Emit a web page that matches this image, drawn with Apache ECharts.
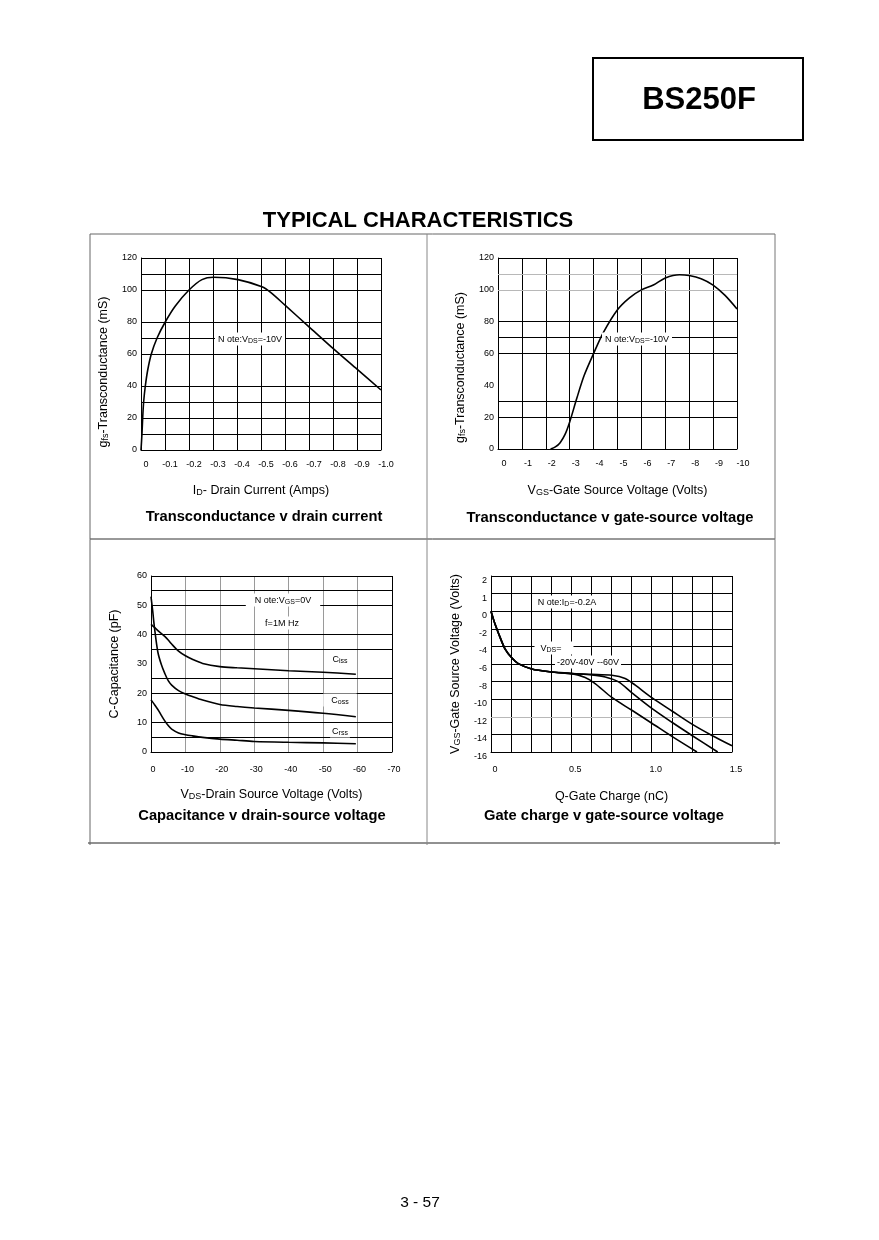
<!DOCTYPE html>
<html>
<head>
<meta charset="utf-8">
<title>BS250F typical characteristics</title>
<script src="https://cdn.jsdelivr.net/npm/echarts@6/dist/echarts.min.js"></script>
<style>
  html, body { margin: 0; padding: 0; background: #fff; }
  #chart { width: 879px; height: 1240px; }
</style>
</head>
<body>
<div id="chart"></div>
<script>
// --- transconductance v drain current (VDS = -10V)
const idAmps = [0, -0.004, -0.007, -0.011, -0.018, -0.028, -0.043, -0.067, -0.101, -0.143, -0.2, -0.254, -0.303, -0.404, -0.504, -0.54, -0.6, -0.7, -0.8, -0.9, -1.0]
const gfsVsId = [0, 10, 20, 30, 40, 50, 60, 70, 80, 90, 100, 106.5, 108, 106.5, 102, 98.5, 90.5, 77, 63.5, 50.5, 37.5]
const idTickLabels = ['0', '-0.1', '-0.2', '-0.3', '-0.4', '-0.5', '-0.6', '-0.7', '-0.8', '-0.9', '-1.0']
const gfsGridBlack1 = [10, 20, 30, 40, 60, 70, 80, 100, 110, 120]

// --- transconductance v gate-source voltage
const vgsVolts = [-2.2, -2.4, -2.6, -2.8, -3, -3.3, -3.6, -4, -4.4, -5, -5.5, -6, -6.5, -7, -7.6, -8, -8.5, -9, -9.5, -10]
const gfsVsVgs = [0, 1.3, 4, 9, 17, 32, 46, 60, 73, 87.5, 95, 100, 103, 107.5, 109.5, 109, 107, 103, 96.5, 88]
const vgsTickLabels = ['0', '-1', '-2', '-3', '-4', '-5', '-6', '-7', '-8', '-9', '-10']
const gfsGridBlack2 = [20, 30, 60, 70, 80, 120]
const gfsGridGrey2 = [100, 110]

// --- capacitance v drain-source voltage (VGS = 0V, f = 1MHz)
const vdsVolts = [0, -0.5, -1, -2, -3, -4, -5, -6, -8, -10, -12, -15, -20, -25, -30, -40, -50, -59.5]
const ciss = [43.5, 43, 42.5, 41.4, 40.4, 39.4, 38.2, 36.8, 34.4, 32.8, 31.6, 30.2, 29.1, 28.7, 28.4, 27.7, 27.2, 26.5]
const coss = [53, 48, 42.5, 34, 29.8, 26.8, 24.3, 22.8, 20.9, 19.8, 18.9, 17.7, 16.2, 15.5, 15, 14.2, 13.2, 12]
const crss = [17.8, 17, 16.2, 14.5, 12.5, 10.6, 9, 7.8, 6.5, 5.9, 5.5, 5, 4.4, 4, 3.6, 3.3, 3.1, 2.8]
const vdsTickLabels = ['0', '-10', '-20', '-30', '-40', '-50', '-60', '-70']
const capGridBlack = [5, 10, 20, 25, 35, 40, 50, 55, 60]

// --- gate charge v gate-source voltage (ID = -0.2A)
const qCommon = [0, 0.015, 0.025, 0.056, 0.087, 0.129, 0.17, 0.253, 0.378, 0.503]
const vgsCommon = [0, -0.9, -1.45, -2.95, -4.27, -5.29, -5.96, -6.56, -6.9, -7.09]
const q20 = [0.586, 0.648, 0.752, 0.877, 1.001, 1.126, 1.282]
const vgs20 = [-7.54, -8.22, -9.8, -11.26, -12.73, -14.23, -16]
const q40 = [0.627, 0.711, 0.794, 0.877, 1.001, 1.126, 1.251, 1.411]
const vgs40 = [-7.24, -7.47, -8.03, -9.27, -11.04, -12.62, -14.12, -16]
const q60 = [0.627, 0.752, 0.835, 0.898, 1.001, 1.126, 1.251, 1.375, 1.5]
const vgs60 = [-7.17, -7.28, -7.65, -8.41, -9.83, -11.34, -12.84, -14.12, -15.29]
const qTickLabels = ['0', '', '', '', '0.5', '', '', '', '1.0', '', '', '', '1.5']
const gateTickLabels = ['2', '1', '0', '-2', '-4', '-6', '-8', '-10', '-12', '-14', '-16'] // top to bottom, as printed
const gateGridBlack = [-14, -10, -8, -6, -4, -2, 0, 2, 4]
const gateGridGrey = [-12]

const FONT = '"Liberation Sans", Arial, Helvetica, sans-serif'
const pairs = (xs, ys) => xs.map((x, i) => [x, ys[i]])

const nameRich = {
  n: { fontSize: 12.5, fontFamily: FONT, color: '#000', lineHeight: 15, verticalAlign: 'bottom' },
  s: { fontSize: 9, fontFamily: FONT, color: '#000', lineHeight: 15, verticalAlign: 'bottom' }
}
const noteRich = {
  n: { fontSize: 9, fontFamily: FONT, fill: '#000', lineHeight: 11, verticalAlign: 'bottom' },
  s: { fontSize: 7, fontFamily: FONT, fill: '#000', lineHeight: 11, verticalAlign: 'bottom' }
}

const baseAxis = (gridIndex, extra) => Object.assign({
  type: 'value',
  gridIndex,
  axisLine: { show: true, onZero: false, lineStyle: { color: '#000', width: 1 } },
  axisTick: { show: false },
  splitLine: { show: false },
  nameLocation: 'middle',
  nameTextStyle: { rich: nameRich },
  axisLabel: { color: '#000', fontSize: 9, fontFamily: FONT, hideOverlap: false }
}, extra)

const gridMarks = (black, grey, axis) => ({
  silent: true,
  symbol: ['none', 'none'],
  label: { show: false },
  emphasis: { disabled: true },
  animation: false,
  lineStyle: { color: '#000', width: 1, type: 'solid' },
  data: black.map(v => ({ [axis]: v }))
    .concat((grey || []).map(v => ({ [axis]: v, lineStyle: { color: '#b8b8b8', width: 1, type: 'solid' } })))
})

const curve = (name, xi, yi, data, markLine) => ({
  name,
  type: 'line',
  xAxisIndex: xi,
  yAxisIndex: yi,
  data,
  showSymbol: false,
  smooth: 0.3,
  lineStyle: { color: '#000', width: 1.6 },
  itemStyle: { color: '#000' },
  z: 5,
  markLine
})

const txt = (x, y, text, o) => ({
  type: 'text',
  x, y,
  z: 100,
  style: Object.assign({
    text,
    fontFamily: FONT,
    fontSize: 11,
    fill: '#000',
    align: 'center',
    verticalAlign: 'middle'
  }, o || {})
})

const note = (x, y, text, pad) => txt(x, y, text, {
  rich: noteRich,
  backgroundColor: '#fff',
  padding: pad || [1, 3]
})

const hline = (x1, x2, y, c) => ({ type: 'line', z: 50, shape: { x1, y1: y, x2, y2: y }, style: { stroke: c || '#666', lineWidth: 1 } })
const vline = (x, y1, y2, c) => ({ type: 'line', z: 50, shape: { x1: x, y1, x2: x, y2 }, style: { stroke: c || '#666', lineWidth: 1 } })

const chart = echarts.init(document.getElementById('chart'), null, { renderer: 'canvas' })

const capMarks = gridMarks(capGridBlack, null, 'yAxis')
capMarks.data = capMarks.data.concat([{ xAxis: -70 }])

const option = {
  backgroundColor: '#fff',
  animation: false,
  grid: [
    { left: 141, top: 258, width: 240, height: 192, outerBoundsMode: 'none' },
    { left: 498, top: 258, width: 239, height: 191, outerBoundsMode: 'none' },
    { left: 151, top: 576, width: 241, height: 176, outerBoundsMode: 'none' },
    { left: 491, top: 576, width: 241, height: 176, outerBoundsMode: 'none' }
  ],
  xAxis: [
    baseAxis(0, {
      min: -1, max: 0, interval: 0.1, inverse: true,
      splitLine: { show: true, lineStyle: { color: '#000', width: 1 } },
      axisLabel: { color: '#000', fontSize: 9, fontFamily: FONT, margin: 10, padding: [0, 0, 0, 10],
        formatter: v => idTickLabels[Math.round(-v / 0.1)] },
      name: '{n|I}{s|D}{n|- Drain Current (Amps)}', nameGap: 32
    }),
    baseAxis(1, {
      min: -10, max: 0, interval: 1, inverse: true,
      splitLine: { show: true, showMaxLine: false, lineStyle: { color: '#000', width: 1 } },
      axisLabel: { color: '#000', fontSize: 9, fontFamily: FONT, margin: 10, padding: [0, 0, 0, 12],
        formatter: v => vgsTickLabels[Math.round(-v)] },
      name: '{n|V}{s|GS}{n|-Gate Source Voltage (Volts)}', nameGap: 33
    }),
    baseAxis(2, {
      min: -70, max: 0, interval: 10, inverse: true,
      splitLine: { show: true, lineStyle: { color: '#9a9a9a', width: 1 } },
      axisLabel: { color: '#000', fontSize: 9, fontFamily: FONT, margin: 13, padding: [0, 0, 0, 4],
        formatter: v => vdsTickLabels[Math.round(-v / 10)] },
      name: '{n|V}{s|DS}{n|-Drain Source Voltage (Volts)}', nameGap: 34
    }),
    baseAxis(3, {
      min: 0, max: 1.5, interval: 0.125,
      splitLine: { show: true, lineStyle: { color: '#000', width: 1 } },
      axisLabel: { color: '#000', fontSize: 9, fontFamily: FONT, margin: 13, padding: [0, 0, 0, 8],
        formatter: v => qTickLabels[Math.round(v / 0.125)] },
      name: '{n|Q-Gate Charge (nC)}', nameGap: 36
    })
  ],
  yAxis: [
    baseAxis(0, {
      min: 0, max: 120, interval: 20,
      axisLabel: { color: '#000', fontSize: 9, fontFamily: FONT, margin: 4 },
      name: '{n|g}{s|fs}{n|-Transconductance (mS)}', nameGap: 31,
      nameTextStyle: { rich: nameRich, padding: [0, 36, 0, 0] }
    }),
    baseAxis(1, {
      min: 0, max: 120, interval: 20,
      axisLabel: { color: '#000', fontSize: 9, fontFamily: FONT, margin: 4 },
      name: '{n|g}{s|fs}{n|-Transconductance (mS)}', nameGap: 31,
      nameTextStyle: { rich: nameRich, padding: [0, 28, 0, 0] }
    }),
    baseAxis(2, {
      min: 0, max: 60, interval: 10,
      axisLabel: { color: '#000', fontSize: 9, fontFamily: FONT, margin: 4 },
      name: '{n|C-Capacitance (pF)}', nameGap: 30
    }),
    baseAxis(3, {
      min: -16, max: 4, interval: 2,
      axisLabel: { color: '#000', fontSize: 9, fontFamily: FONT, margin: 4, verticalAlign: 'top',
        formatter: v => gateTickLabels[Math.round((4 - v) / 2)] },
      name: '{n|V}{s|GS}{n|-Gate Source Voltage (Volts)}', nameGap: 29
    })
  ],
  series: [
    curve('gfs-ID', 0, 0, pairs(idAmps, gfsVsId), gridMarks(gfsGridBlack1, null, 'yAxis')),
    curve('gfs-VGS', 1, 1, pairs(vgsVolts, gfsVsVgs), gridMarks(gfsGridBlack2, gfsGridGrey2, 'yAxis')),
    curve('Ciss', 2, 2, pairs(vdsVolts, ciss), capMarks),
    curve('Coss', 2, 2, pairs(vdsVolts, coss)),
    curve('Crss', 2, 2, pairs(vdsVolts, crss)),
    curve('-20V', 3, 3, pairs(qCommon.concat(q20), vgsCommon.concat(vgs20)), gridMarks(gateGridBlack, gateGridGrey, 'yAxis')),
    curve('-40V', 3, 3, pairs(qCommon.concat(q40), vgsCommon.concat(vgs40))),
    curve('-60V', 3, 3, pairs(qCommon.concat(q60), vgsCommon.concat(vgs60)))
  ],
  graphic: [
    // part number box
    { type: 'rect', z: 50, shape: { x: 593, y: 58, width: 210, height: 82 }, style: { fill: 'none', stroke: '#000', lineWidth: 2 } },
    txt(699, 100, 'BS250F', { fontSize: 31, fontWeight: 'bold' }),
    txt(418, 221, 'TYPICAL CHARACTERISTICS', { fontSize: 22, fontWeight: 'bold' }),
    // panel frame
    hline(90, 775, 234),
    hline(90, 775, 539, '#333'),
    hline(88, 780, 843, '#222'),
    vline(90, 234, 845),
    vline(427, 234, 845, '#888'),
    vline(775, 234, 845, '#777'),
    // panel captions
    txt(264, 517, 'Transconductance v drain current', { fontSize: 14.7, fontWeight: 'bold' }),
    txt(610, 518, 'Transconductance v gate-source voltage', { fontSize: 14.8, fontWeight: 'bold' }),
    txt(262, 816, 'Capacitance v drain-source voltage', { fontSize: 14.7, fontWeight: 'bold' }),
    txt(604, 816, 'Gate charge v gate-source voltage', { fontSize: 14.7, fontWeight: 'bold' }),
    // notes inside plots
    note(250, 339, '{n|N ote:V}{s|DS}{n|=-10V}'),
    note(637, 339, '{n|N ote:V}{s|DS}{n|=-10V}'),
    note(283, 600, '{n|N ote:V}{s|GS}{n|=0V}', [1, 9]),
    note(282, 623, '{n|f=1M Hz}', [1, 2]),
    note(340, 659, '{n|C}{s|iss}', [1, 2]),
    note(340, 700, '{n|C}{s|oss}', [1, 8]),
    note(340, 731, '{n|C}{s|rss}', [1, 2]),
    note(567, 602, '{n|N ote:I}{s|D}{n|=-0.2A}', [1, 2]),
    note(554, 648, '{n|V}{s|DS}{n|=}', [1, 12, 1, 6]),
    note(588, 662, '{n|-20V-40V --60V}', [1, 2]),
    txt(420, 1203, '3 - 57', { fontSize: 15.5 })
  ]
}

chart.setOption(option)
</script>
</body>
</html>
